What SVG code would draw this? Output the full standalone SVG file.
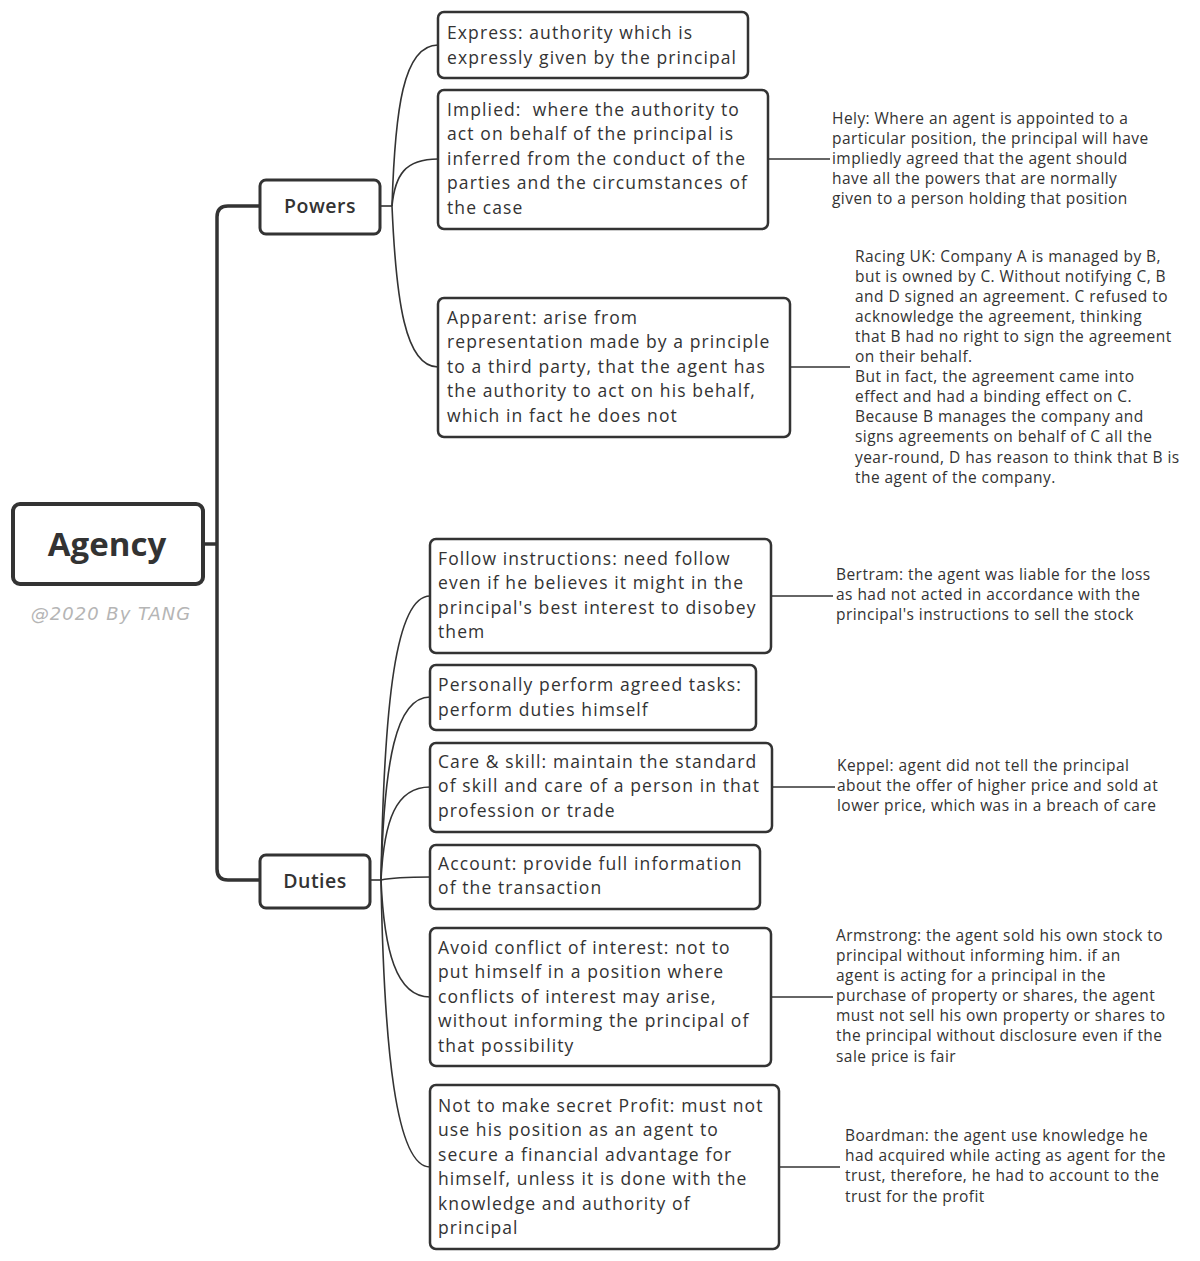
<svg xmlns="http://www.w3.org/2000/svg" width="1200" height="1261" viewBox="0 0 1200 1261">
<style>
.bg{fill:#ffffff}
.box{fill:#ffffff;stroke:#333333;stroke-width:2.5}
.root{fill:#ffffff;stroke:#333333;stroke-width:4}
.main{fill:#ffffff;stroke:#333333;stroke-width:3}
.t{font-family:"Open Sans","Liberation Sans",sans-serif;font-size:17.5px;letter-spacing:1.1px;fill:#333333}
.c{font-family:"Open Sans","Liberation Sans",sans-serif;font-size:15.5px;letter-spacing:0.45px;fill:#333333}
.tm{font-family:"Open Sans","Liberation Sans",sans-serif;font-size:19.5px;font-weight:600;letter-spacing:0.5px;fill:#333333;text-anchor:middle}
.tr{font-family:"Open Sans","Liberation Sans",sans-serif;font-size:33px;font-weight:700;fill:#333333;text-anchor:middle}
.wm{font-family:"DejaVu Sans","Liberation Sans",sans-serif;font-size:18px;font-style:italic;letter-spacing:1px;fill:#b5b5b5;text-anchor:middle}
.trunk{fill:none;stroke:#333333;stroke-width:3.5}
.ln{fill:none;stroke:#333333;stroke-width:1.6}
</style>
<rect class="bg" x="0" y="0" width="1200" height="1261"/>
<g id="connectors">
<path class="trunk" d="M203,544 H217"/>
<path class="trunk" d="M260,206 H228 Q217,206 217,217 V869 Q217,880 228,880 H260"/>
<path class="ln" d="M380,206 H392"/>
<path class="ln" d="M392,206 C395,110 403,45 438,45"/>
<path class="ln" d="M392,206 C395,175 405,159 438,159"/>
<path class="ln" d="M392,206 C396,300 405,367 438,367"/>
<path class="ln" d="M370,880 H381"/>
<path class="ln" d="M381,880 C384,700 396,596 430,596"/>
<path class="ln" d="M381,880 C384,760 396,697 430,697"/>
<path class="ln" d="M381,880 C384,820 396,787 430,787"/>
<path class="ln" d="M381,880 C390,878 405,877 430,877"/>
<path class="ln" d="M381,880 C384,950 396,997 430,997"/>
<path class="ln" d="M381,880 C384,1050 396,1167 430,1167"/>
<path class="ln" d="M768,159 H830"/>
<path class="ln" d="M790,367 H850"/>
<path class="ln" d="M771,596 H833"/>
<path class="ln" d="M772,787 H835"/>
<path class="ln" d="M771,997 H833"/>
<path class="ln" d="M779,1167 H840"/>
</g>
<g id="agency">
<rect class="root" x="13" y="504" width="190" height="80" rx="7"/>
<text class="tr" x="107" y="556">Agency</text>
<text class="wm" x="111" y="620">@2020 By TANG</text>
</g>
<g id="powers">
<rect class="main" x="260" y="180" width="120" height="54" rx="6"/>
<text class="tm" x="320" y="213">Powers</text>
</g>
<g id="duties">
<rect class="main" x="260" y="855" width="110" height="53" rx="6"/>
<text class="tm" x="315" y="888">Duties</text>
</g>
<g id="express">
<rect class="box" x="438" y="12" width="310" height="66" rx="6"/>
<text class="t"><tspan x="447" y="39">Express: authority which is</tspan><tspan x="447" y="64">expressly given by the principal</tspan></text>
</g>
<g id="implied">
<rect class="box" x="438" y="90" width="330" height="139" rx="6"/>
<text class="t"><tspan x="447" y="116">Implied:&#160; where the authority to</tspan><tspan x="447" y="140">act on behalf of the principal is</tspan><tspan x="447" y="165">inferred from the conduct of the</tspan><tspan x="447" y="189">parties and the circumstances of</tspan><tspan x="447" y="214">the case</tspan></text>
</g>
<g id="apparent">
<rect class="box" x="438" y="298" width="352" height="139" rx="6"/>
<text class="t"><tspan x="447" y="324">Apparent: arise from</tspan><tspan x="447" y="348">representation made by a principle</tspan><tspan x="447" y="373">to a third party, that the agent has</tspan><tspan x="447" y="397">the authority to act on his behalf,</tspan><tspan x="447" y="422">which in fact he does not</tspan></text>
</g>
<g id="hely">
<text class="c"><tspan x="832" y="124">Hely: Where an agent is appointed to a</tspan><tspan x="832" y="144">particular position, the principal will have</tspan><tspan x="832" y="164">impliedly agreed that the agent should</tspan><tspan x="832" y="184">have all the powers that are normally</tspan><tspan x="832" y="204">given to a person holding that position</tspan></text>
</g>
<g id="racing">
<text class="c"><tspan x="855" y="262">Racing UK: Company A is managed by B,</tspan><tspan x="855" y="282">but is owned by C. Without notifying C, B</tspan><tspan x="855" y="302">and D signed an agreement. C refused to</tspan><tspan x="855" y="322">acknowledge the agreement, thinking</tspan><tspan x="855" y="342">that B had no right to sign the agreement</tspan><tspan x="855" y="362">on their behalf.</tspan><tspan x="855" y="382">But in fact, the agreement came into</tspan><tspan x="855" y="402">effect and had a binding effect on C.</tspan><tspan x="855" y="422">Because B manages the company and</tspan><tspan x="855" y="442">signs agreements on behalf of C all the</tspan><tspan x="855" y="463">year-round, D has reason to think that B is</tspan><tspan x="855" y="483">the agent of the company.</tspan></text>
</g>
<g id="follow">
<rect class="box" x="430" y="539" width="341" height="114" rx="6"/>
<text class="t"><tspan x="438" y="565">Follow instructions: need follow</tspan><tspan x="438" y="589">even if he believes it might in the</tspan><tspan x="438" y="614">principal's best interest to disobey</tspan><tspan x="438" y="638">them</tspan></text>
</g>
<g id="personally">
<rect class="box" x="430" y="665" width="326" height="65" rx="6"/>
<text class="t"><tspan x="438" y="691">Personally perform agreed tasks:</tspan><tspan x="438" y="716">perform duties himself</tspan></text>
</g>
<g id="care">
<rect class="box" x="430" y="743" width="342" height="89" rx="6"/>
<text class="t"><tspan x="438" y="768">Care &amp; skill: maintain the standard</tspan><tspan x="438" y="792">of skill and care of a person in that</tspan><tspan x="438" y="817">profession or trade</tspan></text>
</g>
<g id="account">
<rect class="box" x="430" y="845" width="330" height="64" rx="6"/>
<text class="t"><tspan x="438" y="870">Account: provide full information</tspan><tspan x="438" y="894">of the transaction</tspan></text>
</g>
<g id="avoid">
<rect class="box" x="430" y="928" width="341" height="138" rx="6"/>
<text class="t"><tspan x="438" y="954">Avoid conflict of interest: not to</tspan><tspan x="438" y="978">put himself in a position where</tspan><tspan x="438" y="1003">conflicts of interest may arise,</tspan><tspan x="438" y="1027">without informing the principal of</tspan><tspan x="438" y="1052">that possibility</tspan></text>
</g>
<g id="secret">
<rect class="box" x="430" y="1085" width="349" height="164" rx="6"/>
<text class="t"><tspan x="438" y="1112">Not to make secret Profit: must not</tspan><tspan x="438" y="1136">use his position as an agent to</tspan><tspan x="438" y="1161">secure a financial advantage for</tspan><tspan x="438" y="1185">himself, unless it is done with the</tspan><tspan x="438" y="1210">knowledge and authority of</tspan><tspan x="438" y="1234">principal</tspan></text>
</g>
<g id="bertram">
<text class="c"><tspan x="836" y="580">Bertram: the agent was liable for the loss</tspan><tspan x="836" y="600">as had not acted in accordance with the</tspan><tspan x="836" y="620">principal's instructions to sell the stock</tspan></text>
</g>
<g id="keppel">
<text class="c"><tspan x="837" y="771">Keppel: agent did not tell the principal</tspan><tspan x="837" y="791">about the offer of higher price and sold at</tspan><tspan x="837" y="811">lower price, which was in a breach of care</tspan></text>
</g>
<g id="armstrong">
<text class="c"><tspan x="836" y="941">Armstrong: the agent sold his own stock to</tspan><tspan x="836" y="961">principal without informing him. if an</tspan><tspan x="836" y="981">agent is acting for a principal in the</tspan><tspan x="836" y="1001">purchase of property or shares, the agent</tspan><tspan x="836" y="1021">must not sell his own property or shares to</tspan><tspan x="836" y="1041">the principal without disclosure even if the</tspan><tspan x="836" y="1062">sale price is fair</tspan></text>
</g>
<g id="boardman">
<text class="c"><tspan x="845" y="1141">Boardman: the agent use knowledge he</tspan><tspan x="845" y="1161">had acquired while acting as agent for the</tspan><tspan x="845" y="1181">trust, therefore, he had to account to the</tspan><tspan x="845" y="1202">trust for the profit</tspan></text>
</g>
</svg>
